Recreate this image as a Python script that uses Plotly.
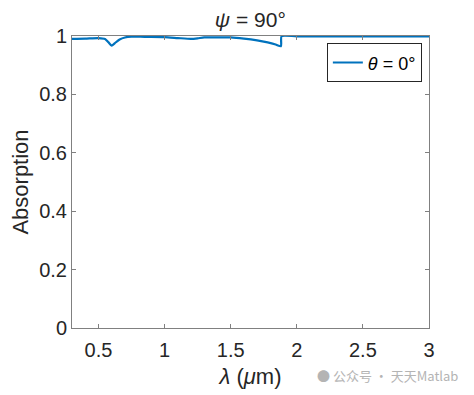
import plotly.graph_objects as go

wavelength_um = [0.3, 0.4, 0.5, 0.55, 0.575, 0.6, 0.625, 0.66, 0.7, 0.75, 0.85, 1.0, 1.1, 1.2, 1.25, 1.3, 1.4, 1.5, 1.6, 1.7, 1.78, 1.84, 1.88, 1.885, 2.0, 2.5, 3.0]
absorption = [0.99, 0.991, 0.993, 0.99, 0.979, 0.967, 0.976, 0.988, 0.995, 0.998, 0.997, 0.996, 0.993, 0.99, 0.992, 0.995, 0.995, 0.995, 0.991, 0.985, 0.978, 0.971, 0.965, 0.999, 0.999, 0.999, 0.999]

x_ticks = [0.5, 1, 1.5, 2, 2.5, 3]
x_ticklabels = ["0.5", "1", "1.5", "2", "2.5", "3"]
y_ticks = [0, 0.2, 0.4, 0.6, 0.8, 1]
y_ticklabels = ["0", "0.2", "0.4", "0.6", "0.8", "1"]

font_family = "Liberation Sans, Arial, sans-serif"
axis_color = "#262626"

fig = go.Figure()
fig.add_trace(go.Scatter(
    x=wavelength_um, y=absorption, mode="lines",
    line=dict(color="#0072BD", width=2.2, shape="spline", smoothing=0.6),
    name="<i>θ</i> = 0°",
))

axis_common = dict(
    showgrid=False, zeroline=False, showline=True, mirror="ticks",
    linecolor="#808080", linewidth=1, ticks="inside", ticklen=4,
    tickcolor="#808080", automargin=False,
    tickfont=dict(size=20, color=axis_color, family=font_family),
)

fig.update_layout(
    width=466, height=387,
    margin=dict(l=64, r=45, t=28, b=67),
    paper_bgcolor="white", plot_bgcolor="white",
    font=dict(family=font_family, color=axis_color),
    title=dict(text="<i>ψ</i> = 90°", x=0.52, xanchor="center", y=0.969, yanchor="middle",
               font=dict(size=21, color=axis_color)),
    xaxis=dict(range=[0.3, 3], tickvals=x_ticks, ticktext=x_ticklabels,
               ticklabelstandoff=4,
               title=dict(text="<i>λ</i> (<i>μ</i>m)", font=dict(size=22), standoff=8),
               **axis_common),
    yaxis=dict(range=[0, 1], tickvals=y_ticks, ticktext=y_ticklabels,
               title=dict(text="Absorption", font=dict(size=22), standoff=9),
               **axis_common),
    showlegend=True,
    legend=dict(x=0.98, y=0.975, xanchor="right", yanchor="top",
                bordercolor="#262626", borderwidth=1, bgcolor="white",
                font=dict(size=18, color="#000000"), itemwidth=30,
                tracegroupgap=0),
    annotations=[dict(text="● 公众号 · 天天Matlab", xref="paper", yref="paper",
                      x=1.087, y=-0.161, xanchor="right", yanchor="middle", showarrow=False,
                      font=dict(size=13, color="#b4b4b4", family="Noto Sans CJK SC"))],
)

fig.write_html("out.html")
